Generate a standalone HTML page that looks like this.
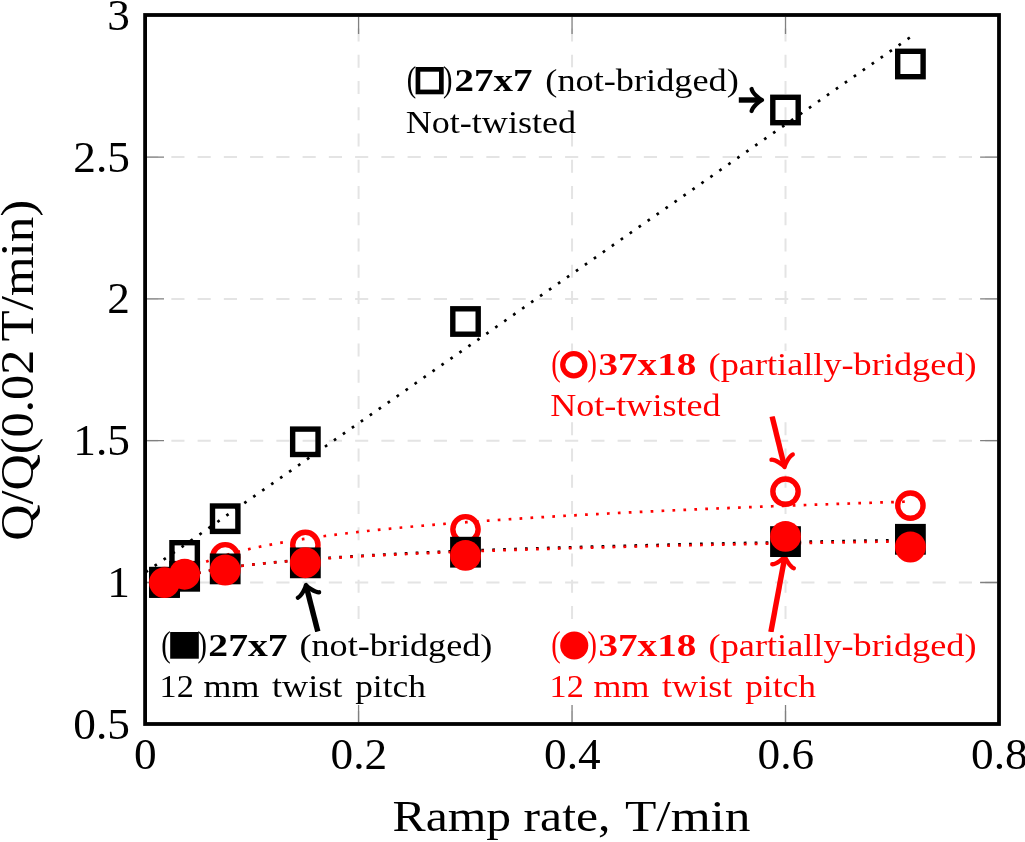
<!DOCTYPE html><html><head><meta charset="utf-8"><style>html,body{margin:0;padding:0;background:#fff;}svg{display:block;will-change:transform;}text{font-family:"Liberation Serif",serif;}</style></head><body>
<svg width="1025" height="842" viewBox="0 0 1025 842">
<rect width="1025" height="842" fill="#fff"/>
<path d="M145.10 582.50H999.00 M145.10 440.70H999.00 M145.10 298.90H999.00 M145.10 157.10H999.00" stroke="#e4e4e4" stroke-width="2.0" stroke-dasharray="13.125 13.125" fill="none"/>
<path d="M358.58 724.00V15.00 M572.05 724.00V15.00 M785.52 724.00V15.00" stroke="#e4e4e4" stroke-width="2.0" stroke-dasharray="13.125 13.125" fill="none"/>
<path d="M147.00 582.50h17.00 M997.10 582.50h-17.00 M147.00 440.70h17.00 M997.10 440.70h-17.00 M147.00 298.90h17.00 M997.10 298.90h-17.00 M147.00 157.10h17.00 M997.10 157.10h-17.00 M358.58 722.10v-17.00 M358.58 16.90v17.00 M572.05 722.10v-17.00 M572.05 16.90v17.00 M785.52 722.10v-17.00 M785.52 16.90v17.00" stroke="#808080" stroke-width="1.3" fill="none"/>
<path d="M145.10,572.59 L913.61,34.83" stroke="#000" stroke-dashoffset="-0.72" stroke-dasharray="2.7 8.24" stroke-width="2.7" fill="none"/>
<path d="M164.53,585.04 L168.26,582.94 L171.98,581.16 L175.71,579.61 L179.44,578.24 L183.17,577.01 L186.90,575.89 L190.63,574.87 L194.36,573.94 L198.09,573.06 L201.81,572.25 L205.54,571.49 L209.27,570.78 L213.00,570.11 L216.73,569.47 L220.46,568.86 L224.19,568.29 L227.92,567.74 L231.65,567.21 L235.37,566.71 L239.10,566.23 L242.83,565.76 L246.56,565.31 L250.29,564.88 L254.02,564.46 L257.75,564.04 L261.48,563.64 L265.21,563.24 L268.93,562.86 L272.66,562.49 L276.39,562.13 L280.12,561.78 L283.85,561.44 L287.58,561.11 L291.31,560.78 L295.04,560.47 L298.77,560.16 L302.49,559.85 L306.22,559.56 L309.95,559.27 L313.68,558.98 L317.41,558.71 L321.14,558.44 L324.87,558.17 L328.60,557.91 L332.33,557.65 L336.05,557.40 L339.78,557.15 L343.51,556.91 L347.24,556.67 L350.97,556.44 L354.70,556.21 L358.43,555.98 L362.16,555.76 L365.89,555.54 L369.61,555.32 L373.34,555.11 L377.07,554.90 L380.80,554.69 L384.53,554.49 L388.26,554.29 L391.99,554.09 L395.72,553.89 L399.45,553.70 L403.17,553.51 L406.90,553.32 L410.63,553.14 L414.36,552.95 L418.09,552.77 L421.82,552.60 L425.55,552.42 L429.28,552.25 L433.01,552.07 L436.73,551.92 L440.46,551.76 L444.19,551.61 L447.92,551.45 L451.65,551.30 L455.38,551.16 L459.11,551.01 L462.84,550.87 L466.57,550.72 L470.29,550.58 L474.02,550.44 L477.75,550.30 L481.48,550.17 L485.21,550.03 L488.94,549.90 L492.67,549.76 L496.40,549.63 L500.12,549.50 L503.85,549.37 L507.58,549.25 L511.31,549.12 L515.04,549.00 L518.77,548.87 L522.50,548.75 L526.23,548.63 L529.96,548.51 L533.68,548.39 L537.41,548.27 L541.14,548.16 L544.87,548.04 L548.60,547.93 L552.33,547.81 L556.06,547.70 L559.79,547.59 L563.52,547.48 L567.24,547.37 L570.97,547.26 L574.70,547.15 L578.43,547.04 L582.16,546.94 L585.89,546.83 L589.62,546.73 L593.35,546.62 L597.08,546.52 L600.80,546.42 L604.53,546.32 L608.26,546.22 L611.99,546.12 L615.72,546.02 L619.45,545.92 L623.18,545.82 L626.91,545.73 L630.64,545.63 L634.36,545.54 L638.09,545.44 L641.82,545.35 L645.55,545.26 L649.28,545.16 L653.01,545.07 L656.74,544.98 L660.47,544.89 L664.20,544.80 L667.92,544.71 L671.65,544.62 L675.38,544.53 L679.11,544.45 L682.84,544.36 L686.57,544.27 L690.30,544.19 L694.03,544.10 L697.76,544.02 L701.48,543.93 L705.21,543.85 L708.94,543.77 L712.67,543.68 L716.40,543.60 L720.13,543.52 L723.86,543.44 L727.59,543.36 L731.32,543.28 L735.04,543.20 L738.77,543.12 L742.50,543.04 L746.23,542.96 L749.96,542.89 L753.69,542.81 L757.42,542.73 L761.15,542.66 L764.88,542.58 L768.60,542.50 L772.33,542.43 L776.06,542.35 L779.79,542.28 L783.52,542.21 L787.25,542.13 L790.98,542.06 L794.71,541.99 L798.43,541.92 L802.16,541.84 L805.89,541.77 L809.62,541.70 L813.35,541.63 L817.08,541.56 L820.81,541.49 L824.54,541.42 L828.27,541.35 L831.99,541.28 L835.72,541.21 L839.45,541.15 L843.18,541.08 L846.91,541.01 L850.64,540.94 L854.37,540.88 L858.10,540.81 L861.83,540.75 L865.55,540.68 L869.28,540.61 L873.01,540.55 L876.74,540.48 L880.47,540.42 L884.20,540.36 L887.93,540.29 L891.66,540.23 L895.39,540.16 L899.11,540.10 L902.84,540.04 L906.57,539.98 L910.30,539.91" stroke="#000" stroke-dashoffset="-2.92" stroke-dasharray="2.7 8.24" stroke-width="2.7" fill="none"/>
<path d="M164.53,585.04 L168.26,582.94 L171.98,581.16 L175.71,579.61 L179.44,578.24 L183.17,577.01 L186.90,575.89 L190.63,574.87 L194.36,573.94 L198.09,573.06 L201.81,572.25 L205.54,571.49 L209.27,570.78 L213.00,570.11 L216.73,569.47 L220.46,568.86 L224.19,568.29 L227.92,567.74 L231.65,567.21 L235.37,566.71 L239.10,566.23 L242.83,565.76 L246.56,565.31 L250.29,564.88 L254.02,564.47 L257.75,564.07 L261.48,563.68 L265.21,563.30 L268.93,562.94 L272.66,562.58 L276.39,562.24 L280.12,561.91 L283.85,561.58 L287.58,561.26 L291.31,560.96 L295.04,560.66 L298.77,560.36 L302.49,560.08 L306.22,559.80 L309.95,559.52 L313.68,559.26 L317.41,559.00 L321.14,558.74 L324.87,558.49 L328.60,558.25 L332.33,558.01 L336.05,557.77 L339.78,557.54 L343.51,557.31 L347.24,557.09 L350.97,556.87 L354.70,556.66 L358.43,556.45 L362.16,556.24 L365.89,556.04 L369.61,555.84 L373.34,555.64 L377.07,555.45 L380.80,555.26 L384.53,555.07 L388.26,554.89 L391.99,554.71 L395.72,554.53 L399.45,554.35 L403.17,554.18 L406.90,554.01 L410.63,553.84 L414.36,553.67 L418.09,553.51 L421.82,553.34 L425.55,553.19 L429.28,553.03 L433.01,552.87 L436.73,552.72 L440.46,552.57 L444.19,552.42 L447.92,552.27 L451.65,552.12 L455.38,551.98 L459.11,551.84 L462.84,551.70 L466.57,551.56 L470.29,551.42 L474.02,551.28 L477.75,551.15 L481.48,551.02 L485.21,550.88 L488.94,550.75 L492.67,550.63 L496.40,550.50 L500.12,550.37 L503.85,550.25 L507.58,550.12 L511.31,550.00 L515.04,549.88 L518.77,549.76 L522.50,549.64 L526.23,549.53 L529.96,549.41 L533.68,549.29 L537.41,549.18 L541.14,549.07 L544.87,548.96 L548.60,548.85 L552.33,548.74 L556.06,548.63 L559.79,548.52 L563.52,548.41 L567.24,548.31 L570.97,548.20 L574.70,548.10 L578.43,547.99 L582.16,547.89 L585.89,547.79 L589.62,547.69 L593.35,547.59 L597.08,547.49 L600.80,547.39 L604.53,547.30 L608.26,547.20 L611.99,547.10 L615.72,547.01 L619.45,546.92 L623.18,546.82 L626.91,546.73 L630.64,546.64 L634.36,546.55 L638.09,546.46 L641.82,546.37 L645.55,546.28 L649.28,546.19 L653.01,546.10 L656.74,546.01 L660.47,545.93 L664.20,545.84 L667.92,545.75 L671.65,545.67 L675.38,545.59 L679.11,545.50 L682.84,545.42 L686.57,545.34 L690.30,545.25 L694.03,545.17 L697.76,545.09 L701.48,545.01 L705.21,544.93 L708.94,544.85 L712.67,544.77 L716.40,544.70 L720.13,544.62 L723.86,544.54 L727.59,544.47 L731.32,544.39 L735.04,544.31 L738.77,544.24 L742.50,544.16 L746.23,544.09 L749.96,544.02 L753.69,543.94 L757.42,543.87 L761.15,543.80 L764.88,543.73 L768.60,543.65 L772.33,543.58 L776.06,543.51 L779.79,543.44 L783.52,543.37 L787.25,543.30 L790.98,543.23 L794.71,543.16 L798.43,543.10 L802.16,543.03 L805.89,542.96 L809.62,542.89 L813.35,542.83 L817.08,542.76 L820.81,542.69 L824.54,542.63 L828.27,542.56 L831.99,542.50 L835.72,542.43 L839.45,542.37 L843.18,542.31 L846.91,542.24 L850.64,542.18 L854.37,542.12 L858.10,542.05 L861.83,541.99 L865.55,541.93 L869.28,541.87 L873.01,541.81 L876.74,541.75 L880.47,541.68 L884.20,541.62 L887.93,541.56 L891.66,541.50 L895.39,541.45 L899.11,541.39 L902.84,541.33 L906.57,541.27 L910.30,541.21" stroke="#f00" stroke-dashoffset="-2.92" stroke-dasharray="2.7 8.24" stroke-width="2.7" fill="none"/>
<path d="M164.53,589.03 L168.26,584.85 L171.98,581.29 L175.71,578.20 L179.44,575.46 L183.17,573.00 L186.90,570.78 L190.63,568.74 L194.36,566.87 L198.09,565.13 L201.81,563.51 L205.54,561.99 L209.27,560.57 L213.00,559.22 L216.73,557.95 L220.46,556.74 L224.19,555.59 L227.92,554.49 L231.65,553.44 L235.37,552.44 L239.10,551.47 L242.83,550.55 L246.56,549.66 L250.29,548.80 L254.02,547.97 L257.75,547.16 L261.48,546.39 L265.21,545.64 L268.93,544.91 L272.66,544.20 L276.39,543.52 L280.12,542.85 L283.85,542.20 L287.58,541.57 L291.31,540.95 L295.04,540.35 L298.77,539.77 L302.49,539.20 L306.22,538.64 L309.95,538.09 L313.68,537.56 L317.41,537.04 L321.14,536.53 L324.87,536.03 L328.60,535.54 L332.33,535.06 L336.05,534.59 L339.78,534.13 L343.51,533.68 L347.24,533.24 L350.97,532.80 L354.70,532.37 L358.43,531.95 L362.16,531.54 L365.89,531.13 L369.61,530.74 L373.34,530.34 L377.07,529.96 L380.80,529.58 L384.53,529.20 L388.26,528.84 L391.99,528.47 L395.72,528.12 L399.45,527.76 L403.17,527.42 L406.90,527.08 L410.63,526.74 L414.36,526.41 L418.09,526.08 L421.82,525.76 L425.55,525.44 L429.28,525.12 L433.01,524.81 L436.73,524.51 L440.46,524.20 L444.19,523.90 L447.92,523.61 L451.65,523.32 L455.38,523.03 L459.11,522.74 L462.84,522.46 L466.57,522.19 L470.29,521.91 L474.02,521.64 L477.75,521.37 L481.48,521.11 L485.21,520.84 L488.94,520.58 L492.67,520.33 L496.40,520.07 L500.12,519.82 L503.85,519.57 L507.58,519.33 L511.31,519.08 L515.04,518.84 L518.77,518.60 L522.50,518.36 L526.23,518.13 L529.96,517.90 L533.68,517.67 L537.41,517.44 L541.14,517.22 L544.87,516.99 L548.60,516.77 L552.33,516.55 L556.06,516.34 L559.79,516.12 L563.52,515.91 L567.24,515.70 L570.97,515.49 L574.70,515.28 L578.43,515.07 L582.16,514.87 L585.89,514.67 L589.62,514.47 L593.35,514.27 L597.08,514.07 L600.80,513.87 L604.53,513.68 L608.26,513.49 L611.99,513.30 L615.72,513.11 L619.45,512.92 L623.18,512.73 L626.91,512.55 L630.64,512.36 L634.36,512.18 L638.09,512.00 L641.82,511.82 L645.55,511.64 L649.28,511.47 L653.01,511.29 L656.74,511.12 L660.47,510.94 L664.20,510.77 L667.92,510.60 L671.65,510.43 L675.38,510.26 L679.11,510.10 L682.84,509.93 L686.57,509.77 L690.30,509.60 L694.03,509.44 L697.76,509.28 L701.48,509.12 L705.21,508.96 L708.94,508.80 L712.67,508.64 L716.40,508.49 L720.13,508.33 L723.86,508.18 L727.59,508.03 L731.32,507.87 L735.04,507.72 L738.77,507.57 L742.50,507.42 L746.23,507.28 L749.96,507.13 L753.69,506.98 L757.42,506.84 L761.15,506.69 L764.88,506.55 L768.60,506.41 L772.33,506.26 L776.06,506.12 L779.79,505.98 L783.52,505.84 L787.25,505.70 L790.98,505.57 L794.71,505.43 L798.43,505.29 L802.16,505.16 L805.89,505.02 L809.62,504.89 L813.35,504.75 L817.08,504.62 L820.81,504.49 L824.54,504.36 L828.27,504.23 L831.99,504.10 L835.72,503.97 L839.45,503.84 L843.18,503.71 L846.91,503.59 L850.64,503.46 L854.37,503.34 L858.10,503.21 L861.83,503.09 L865.55,502.96 L869.28,502.84 L873.01,502.72 L876.74,502.60 L880.47,502.47 L884.20,502.35 L887.93,502.23 L891.66,502.12 L895.39,502.00 L899.11,501.88 L902.84,501.76 L906.57,501.64 L910.30,501.53" stroke="#f00" stroke-dashoffset="-6.53" stroke-dasharray="2.7 8.24" stroke-width="2.7" fill="none"/>
<path d="M738.80 100.00L759.89 100.00" stroke="#000" stroke-width="5.4" fill="none"/><path d="M751.64 111.00C752.33 106.88 759.89 100.69 761.95 100.00C759.89 99.31 752.33 93.12 751.64 89.00" stroke="#000" stroke-width="4.3" fill="none" stroke-linecap="round" stroke-linejoin="round"/>
<path d="M317.80 631.50L306.44 586.98" stroke="#000" stroke-width="5.4" fill="none"/><path d="M319.14 592.26C314.97 592.61 307.11 586.81 305.93 584.98C305.78 587.15 301.65 596.01 297.82 597.70" stroke="#000" stroke-width="4.3" fill="none" stroke-linecap="round" stroke-linejoin="round"/>
<path d="M772.10 416.40L784.09 465.11" stroke="#f00" stroke-width="5.4" fill="none"/><path d="M771.44 459.73C775.61 459.41 783.43 465.27 784.59 467.11C784.76 464.95 788.96 456.12 792.80 454.47" stroke="#f00" stroke-width="4.3" fill="none" stroke-linecap="round" stroke-linejoin="round"/>
<path d="M770.90 632.00L784.54 558.14" stroke="#f00" stroke-width="5.4" fill="none"/><path d="M793.85 568.25C789.92 566.83 785.21 558.27 784.91 556.11C783.86 558.02 776.40 564.33 772.22 564.26" stroke="#f00" stroke-width="4.3" fill="none" stroke-linecap="round" stroke-linejoin="round"/>
<rect x="151.80" y="569.50" width="25.4" height="25.4" fill="none" stroke="#000" stroke-width="5.4"/>
<rect x="171.95" y="542.70" width="25.4" height="25.4" fill="none" stroke="#000" stroke-width="5.4"/>
<rect x="212.50" y="506.00" width="25.4" height="25.4" fill="none" stroke="#000" stroke-width="5.4"/>
<rect x="292.65" y="429.10" width="25.4" height="25.4" fill="none" stroke="#000" stroke-width="5.4"/>
<rect x="452.80" y="308.80" width="25.4" height="25.4" fill="none" stroke="#000" stroke-width="5.4"/>
<rect x="772.80" y="97.30" width="25.4" height="25.4" fill="none" stroke="#000" stroke-width="5.4"/>
<rect x="897.70" y="51.30" width="25.4" height="25.4" fill="none" stroke="#000" stroke-width="5.4"/>
<circle cx="164.50" cy="582.20" r="12.65" fill="none" stroke="#f00" stroke-width="5.4"/>
<circle cx="184.65" cy="574.50" r="12.65" fill="none" stroke="#f00" stroke-width="5.4"/>
<circle cx="225.20" cy="557.30" r="12.65" fill="none" stroke="#f00" stroke-width="5.4"/>
<circle cx="305.35" cy="544.95" r="12.65" fill="none" stroke="#f00" stroke-width="5.4"/>
<circle cx="465.50" cy="529.30" r="12.65" fill="none" stroke="#f00" stroke-width="5.4"/>
<circle cx="785.50" cy="491.60" r="12.65" fill="none" stroke="#f00" stroke-width="5.4"/>
<circle cx="910.40" cy="505.60" r="12.65" fill="none" stroke="#f00" stroke-width="5.4"/>
<rect x="149.10" y="567.10" width="30.8" height="30.8" fill="#000"/>
<rect x="169.25" y="560.90" width="30.8" height="30.8" fill="#000"/>
<rect x="209.80" y="553.50" width="30.8" height="30.8" fill="#000"/>
<rect x="289.95" y="547.45" width="30.8" height="30.8" fill="#000"/>
<rect x="450.10" y="536.80" width="30.8" height="30.8" fill="#000"/>
<rect x="770.10" y="526.20" width="30.8" height="30.8" fill="#000"/>
<rect x="895.00" y="523.90" width="30.8" height="30.8" fill="#000"/>
<circle cx="164.50" cy="582.60" r="15.45" fill="#f00"/>
<circle cx="184.65" cy="574.20" r="15.45" fill="#f00"/>
<circle cx="225.20" cy="570.00" r="15.45" fill="#f00"/>
<circle cx="305.35" cy="562.70" r="15.45" fill="#f00"/>
<circle cx="465.50" cy="555.40" r="15.45" fill="#f00"/>
<circle cx="785.50" cy="536.40" r="15.45" fill="#f00"/>
<circle cx="910.40" cy="547.00" r="15.45" fill="#f00"/>
<rect x="145.10" y="15.00" width="853.90" height="709.00" fill="none" stroke="#000" stroke-width="3.8"/>
<text x="129.9" y="738.70" font-size="45.3" text-anchor="end">0.5</text>
<text x="129.9" y="596.90" font-size="45.3" text-anchor="end">1</text>
<text x="129.9" y="455.10" font-size="45.3" text-anchor="end">1.5</text>
<text x="129.9" y="313.30" font-size="45.3" text-anchor="end">2</text>
<text x="129.9" y="171.50" font-size="45.3" text-anchor="end">2.5</text>
<text x="129.9" y="29.70" font-size="45.3" text-anchor="end">3</text>
<text x="145.40" y="768.9" font-size="45.3" text-anchor="middle">0</text>
<text x="358.88" y="768.9" font-size="45.3" text-anchor="middle">0.2</text>
<text x="572.35" y="768.9" font-size="45.3" text-anchor="middle">0.4</text>
<text x="785.82" y="768.9" font-size="45.3" text-anchor="middle">0.6</text>
<text x="999.30" y="768.9" font-size="45.3" text-anchor="middle">0.8</text>
<text x="392.57" y="831.20" font-size="44.0" textLength="217.86" lengthAdjust="spacingAndGlyphs">Ramp rate,</text>
<text x="624.97" y="831.20" font-size="44.0" textLength="125.61" lengthAdjust="spacingAndGlyphs">T/min</text>
<g transform="translate(33.2 0) rotate(-90)"><text x="-540.86" y="0.00" font-size="45.5" textLength="191.23" lengthAdjust="spacingAndGlyphs">Q/Q(0.02</text><text x="-341.42" y="0.00" font-size="45.5" textLength="141.66" lengthAdjust="spacingAndGlyphs">T/min)</text></g>
<rect x="405.5" y="67.4" width="332.50" height="65.40" fill="#fff"/>
<rect x="160.5" y="632.1" width="331.00" height="71.00" fill="#fff"/>
<rect x="550.5" y="350.9" width="425.00" height="65.30" fill="#fff"/>
<rect x="550.5" y="632.1" width="425.00" height="71.00" fill="#fff"/>
<g fill="#000"><text x="406.85" y="91.00" font-size="35.5" textLength="9.46" lengthAdjust="spacingAndGlyphs">(</text><rect x="417.95" y="69.35" width="23.4" height="22.6" fill="none" stroke="#000" stroke-width="4.7"/><text x="442.89" y="91.00" font-size="35.5" textLength="9.46" lengthAdjust="spacingAndGlyphs">)</text><text x="454.56" y="91.00" font-size="31.2" font-weight="bold" textLength="77.89" lengthAdjust="spacingAndGlyphs">27x7</text><text x="545.31" y="91.00" font-size="31.2" textLength="193.49" lengthAdjust="spacingAndGlyphs">(not-bridged)</text><text x="405.66" y="132.60" font-size="31.2" textLength="170.38" lengthAdjust="spacingAndGlyphs">Not-twisted</text></g>
<g fill="#000"><text x="161.35" y="655.70" font-size="35.5" textLength="9.46" lengthAdjust="spacingAndGlyphs">(</text><rect x="170.2" y="632" width="28.6" height="26.7" fill="#000"/><text x="197.59" y="655.70" font-size="35.5" textLength="9.46" lengthAdjust="spacingAndGlyphs">)</text><text x="208.34" y="655.70" font-size="31.2" font-weight="bold" textLength="79.23" lengthAdjust="spacingAndGlyphs">27x7</text><text x="299.41" y="655.70" font-size="31.2" textLength="192.98" lengthAdjust="spacingAndGlyphs">(not-bridged)</text><text x="159.59" y="697.00" font-size="31.2" textLength="34.19" lengthAdjust="spacingAndGlyphs">12</text><text x="203.45" y="697.00" font-size="31.2" textLength="55.92" lengthAdjust="spacingAndGlyphs">mm</text><text x="272.05" y="697.00" font-size="31.2" textLength="70.26" lengthAdjust="spacingAndGlyphs">twist</text><text x="355.23" y="697.00" font-size="31.2" textLength="70.63" lengthAdjust="spacingAndGlyphs">pitch</text></g>
<g fill="#f00"><text x="551.35" y="374.50" font-size="35.5" textLength="9.46" lengthAdjust="spacingAndGlyphs">(</text><circle cx="573.8" cy="364.75" r="11.1" fill="none" stroke="#f00" stroke-width="5.2"/><text x="587.59" y="374.50" font-size="35.5" textLength="9.46" lengthAdjust="spacingAndGlyphs">)</text><text x="598.53" y="374.50" font-size="31.2" font-weight="bold" textLength="97.77" lengthAdjust="spacingAndGlyphs">37x18</text><text x="708.61" y="374.50" font-size="31.2" textLength="267.89" lengthAdjust="spacingAndGlyphs">(partially-bridged)</text><text x="550.16" y="416.00" font-size="31.2" textLength="170.38" lengthAdjust="spacingAndGlyphs">Not-twisted</text></g>
<g fill="#f00"><text x="551.35" y="655.70" font-size="35.5" textLength="9.46" lengthAdjust="spacingAndGlyphs">(</text><circle cx="574.25" cy="645.45" r="14.05" fill="#f00"/><text x="587.59" y="655.70" font-size="35.5" textLength="9.46" lengthAdjust="spacingAndGlyphs">)</text><text x="598.53" y="655.70" font-size="31.2" font-weight="bold" textLength="97.77" lengthAdjust="spacingAndGlyphs">37x18</text><text x="708.61" y="655.70" font-size="31.2" textLength="267.89" lengthAdjust="spacingAndGlyphs">(partially-bridged)</text><text x="549.59" y="697.00" font-size="31.2" textLength="34.19" lengthAdjust="spacingAndGlyphs">12</text><text x="593.45" y="697.00" font-size="31.2" textLength="55.92" lengthAdjust="spacingAndGlyphs">mm</text><text x="662.05" y="697.00" font-size="31.2" textLength="70.26" lengthAdjust="spacingAndGlyphs">twist</text><text x="745.23" y="697.00" font-size="31.2" textLength="70.63" lengthAdjust="spacingAndGlyphs">pitch</text></g>
</svg></body></html>
